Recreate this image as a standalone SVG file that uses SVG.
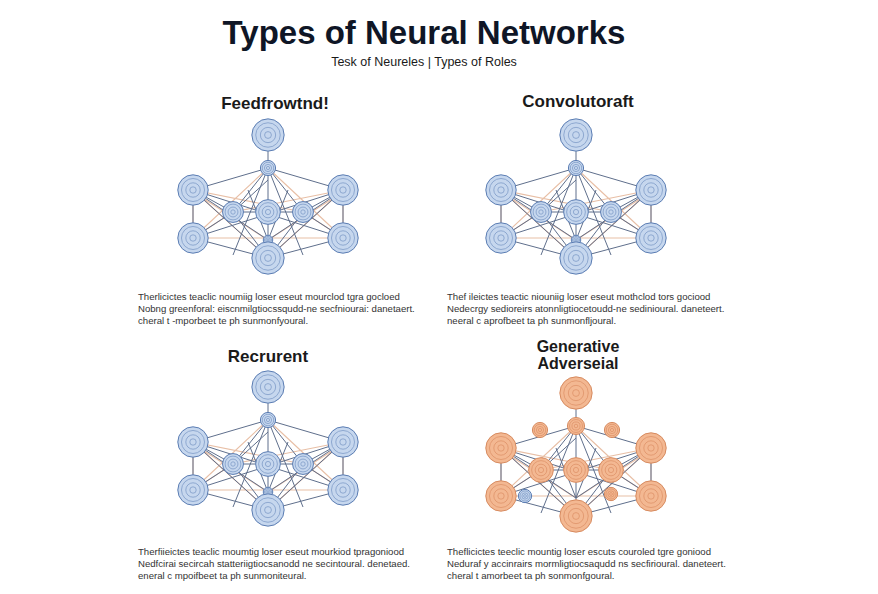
<svg xmlns="http://www.w3.org/2000/svg" xmlns:xlink="http://www.w3.org/1999/xlink" width="878" height="594" viewBox="0 0 878 594">
<style>
text{font-family:"Liberation Sans",Arial,sans-serif;fill:#1a1a1a}
.t{font-weight:bold;font-size:33px;fill:#0f1626}
.st{font-size:12.5px}
.h{font-weight:bold;font-size:17px}
.h2{font-weight:bold;font-size:16px}
.p{font-size:9.6px;fill:#333}
.e1{stroke:#5f6f8c;stroke-width:1;fill:none}
.e2{stroke:#e8bfa6;stroke-width:1.1;fill:none}
.nb circle{fill:#c6d7ee;stroke:#5b7db3;vector-effect:non-scaling-stroke;stroke-width:1}
.nb circle.r{fill:none;stroke:#7f9cc8;stroke-width:0.8}
.no circle{fill:#f3b892;stroke:#d78b60;vector-effect:non-scaling-stroke;stroke-width:1}
.no circle.r{fill:none;stroke:#de936a;stroke-width:0.8}
</style>
<defs>
<symbol id="nb" viewBox="-1 -1 2 2" class="nb" overflow="visible"><circle r="0.95"/><circle class="r" r="0.72"/><circle class="r" r="0.45"/><circle class="r" r="0.2"/></symbol>
<symbol id="no" viewBox="-1 -1 2 2" class="no" overflow="visible"><circle r="0.95"/><circle class="r" r="0.72"/><circle class="r" r="0.45"/><circle class="r" r="0.2"/></symbol>
<g id="edges">
<path class="e2" d="M-75 55L0 123M75 55L0 123M-75 103L-35 77M75 103L35 77M-75 55L-75 103M75 55L75 103M0 33L-75 103M0 33L75 103M-75 103L75 103M-75 55L35 77M75 55L-35 77M-70 60L0 105M70 60L0 105"/>
<path class="e1" d="M0 0L0 123M0 33L-75 55M0 33L75 55M0 33L-35 77M0 33L35 77M0 33L-35 120M0 33L35 120M-75 55L-35 77M75 55L35 77M-75 55L0 105M75 55L0 105M-75 55L75 103M75 55L-75 103M-35 77L-75 103M35 77L75 103M-35 77L0 123M35 77L0 123M-75 103L0 123M75 103L0 123M-35 77L35 77M-75 55L-75 103M75 55L75 103M0 45L-35 77M-20 55L0 105M20 55L0 105M-75 55L0 123M75 55L0 123"/>
</g>
</defs>
<text class="t" x="424" y="44" text-anchor="middle">Types of Neural Networks</text>
<text class="st" x="424" y="66" text-anchor="middle">Tesk of Neureles | Types of Roles</text>

<text class="h" x="275" y="109" text-anchor="middle">Feedfrowtnd!</text>
<text class="h" x="578" y="107" text-anchor="middle">Convolutoraft</text>
<text class="h" x="268" y="362" text-anchor="middle">Recrurent</text>
<text class="h2" x="578" y="352" text-anchor="middle">Generative</text>
<text class="h2" x="578" y="369" text-anchor="middle">Adverseial</text>

<g id="connectors">
<use xlink:href="#edges" transform="translate(268,135)"/>
<use xlink:href="#edges" transform="translate(576,135)"/>
<use xlink:href="#edges" transform="translate(268,387)"/>
<use xlink:href="#edges" transform="translate(576,393)"/>
</g>

<g id="net-feedforward" transform="translate(268,135)">
<use xlink:href="#nb" x="-17" y="-17" width="34" height="34"/>
<use xlink:href="#nb" x="-8" y="25" width="16" height="16"/>
<use xlink:href="#nb" x="-91" y="39" width="32" height="32"/>
<use xlink:href="#nb" x="59" y="39" width="32" height="32"/>
<use xlink:href="#nb" x="-46" y="66" width="22" height="22"/>
<use xlink:href="#nb" x="-13" y="64" width="26" height="26"/>
<use xlink:href="#nb" x="24" y="66" width="22" height="22"/>
<use xlink:href="#nb" x="-91" y="87" width="32" height="32"/>
<use xlink:href="#nb" x="59" y="87" width="32" height="32"/>
<use xlink:href="#nb" x="-5" y="100" width="10" height="10"/>
<use xlink:href="#nb" x="-17" y="106" width="34" height="34"/>
</g>
<g id="net-convolutional" transform="translate(576,135)">
<use xlink:href="#nb" x="-17" y="-17" width="34" height="34"/>
<use xlink:href="#nb" x="-8" y="25" width="16" height="16"/>
<use xlink:href="#nb" x="-91" y="39" width="32" height="32"/>
<use xlink:href="#nb" x="59" y="39" width="32" height="32"/>
<use xlink:href="#nb" x="-46" y="66" width="22" height="22"/>
<use xlink:href="#nb" x="-13" y="64" width="26" height="26"/>
<use xlink:href="#nb" x="24" y="66" width="22" height="22"/>
<use xlink:href="#nb" x="-91" y="87" width="32" height="32"/>
<use xlink:href="#nb" x="59" y="87" width="32" height="32"/>
<use xlink:href="#nb" x="-5" y="100" width="10" height="10"/>
<use xlink:href="#nb" x="-17" y="106" width="34" height="34"/>
</g>
<g id="net-recurrent" transform="translate(268,387)">
<use xlink:href="#nb" x="-17" y="-17" width="34" height="34"/>
<use xlink:href="#nb" x="-8" y="25" width="16" height="16"/>
<use xlink:href="#nb" x="-91" y="39" width="32" height="32"/>
<use xlink:href="#nb" x="59" y="39" width="32" height="32"/>
<use xlink:href="#nb" x="-46" y="66" width="22" height="22"/>
<use xlink:href="#nb" x="-13" y="64" width="26" height="26"/>
<use xlink:href="#nb" x="24" y="66" width="22" height="22"/>
<use xlink:href="#nb" x="-91" y="87" width="32" height="32"/>
<use xlink:href="#nb" x="59" y="87" width="32" height="32"/>
<use xlink:href="#nb" x="-5" y="100" width="10" height="10"/>
<use xlink:href="#nb" x="-17" y="106" width="34" height="34"/>
</g>
<g id="net-gan" transform="translate(576,393)">
<use xlink:href="#no" x="-17" y="-17" width="34" height="34"/>
<use xlink:href="#no" x="-9" y="24" width="18" height="18"/>
<use xlink:href="#no" x="-91" y="39" width="32" height="32"/>
<use xlink:href="#no" x="59" y="39" width="32" height="32"/>
<use xlink:href="#no" x="-44" y="29" width="16" height="16"/>
<use xlink:href="#no" x="28" y="29" width="16" height="16"/>
<use xlink:href="#no" x="-48" y="64" width="26" height="26"/>
<use xlink:href="#no" x="-13" y="64" width="26" height="26"/>
<use xlink:href="#no" x="22" y="64" width="26" height="26"/>
<use xlink:href="#no" x="-91" y="87" width="32" height="32"/>
<use xlink:href="#no" x="59" y="87" width="32" height="32"/>
<use xlink:href="#nb" x="-58" y="96" width="14" height="14"/>
<use xlink:href="#no" x="28" y="94" width="14" height="14"/>
<use xlink:href="#no" x="-17" y="106" width="34" height="34"/>
</g>

<g id="text-feedforward">
<text class="p" x="138" y="300">Therlicictes teaclic noumiig loser eseut  mourclod tgra gocloed</text>
<text class="p" x="138" y="312">Nobng greenforal: eiscnmilgtiocssqudd-ne secfniourai: danetaert.</text>
<text class="p" x="138" y="324">cheral t -mporbeet te ph sunmonfyoural.</text>
</g>
<g id="text-convolutional">
<text class="p" x="447" y="300">Thef ileictes teactic niouniig loser eseut  mothclod tors gociood</text>
<text class="p" x="447" y="312">Nedecrgy sedioreirs atonnligtiocetoudd-ne sedinioural. daneteert.</text>
<text class="p" x="447" y="324">neeral c aprofbeet ta ph sunmonfljoural.</text>
</g>
<g id="text-recurrent">
<text class="p" x="138" y="555">Therfiieictes teaclic moumtig loser eseut  mourkiod tpragoniood</text>
<text class="p" x="138" y="567">Nedfcirai secircah statteriigtiocsanodd ne secintoural. denetaed.</text>
<text class="p" x="138" y="579">eneral c  mpoifbeet ta ph sunmoniteural.</text>
</g>
<g id="text-gan">
<text class="p" x="447" y="555">Theflicictes teeclic mountig loser escuts couroled tgre goniood</text>
<text class="p" x="447" y="567">Neduraf y accinrairs mormligtiocsaqudd ns secfirioural. daneteert.</text>
<text class="p" x="447" y="579">cheral t amorbeet ta ph sonmonfgoural.</text>
</g>
</svg>
